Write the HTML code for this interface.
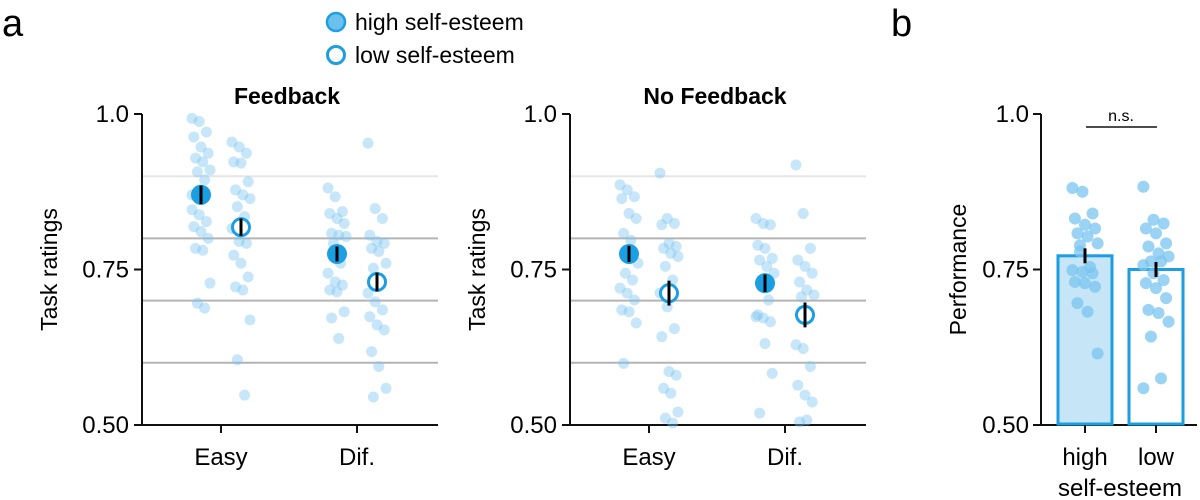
<!DOCTYPE html>
<html><head><meta charset="utf-8"><style>
html,body{margin:0;padding:0;background:#fff;}
svg{display:block;font-family:"Liberation Sans",sans-serif;}
</style></head><body>
<svg id="chart" width="1200" height="500" viewBox="0 0 1200 500"></svg>
<script>
// ---- data ----
const conditions = ["Feedback", "No Feedback"];
const taskCats = ["Easy", "Dif."];
const yTicks = [1.0, 0.75, 0.5];
const yTickLabels = ["1.0", "0.75", "0.50"];
const gridVals = [0.9, 0.8, 0.7, 0.6];
// means [condition][task] for high / low
const meanHigh = [[0.870, 0.775], [0.775, 0.728]];
const meanLow  = [[0.818, 0.730], [0.712, 0.677]];
const semHigh  = [[0.015, 0.012], [0.013, 0.014]];
const semLow   = [[0.014, 0.015], [0.020, 0.020]];
const fbEasyHigh = [0.993,0.988,0.971,0.963,0.947,0.937,0.929,0.923,0.910,0.907,0.894,0.846,0.838,0.827,0.819,0.811,0.800,0.784,0.781,0.728,0.696,0.688,0.870,0.878];
const fbEasyLow = [0.955,0.947,0.937,0.923,0.921,0.891,0.878,0.870,0.864,0.851,0.835,0.816,0.795,0.792,0.773,0.760,0.738,0.722,0.717,0.669,0.605,0.548];
const fbDifHigh = [0.881,0.867,0.843,0.840,0.832,0.824,0.808,0.805,0.803,0.792,0.760,0.744,0.730,0.725,0.717,0.714,0.682,0.672,0.639];
const fbDifLow = [0.953,0.848,0.832,0.805,0.795,0.792,0.784,0.779,0.760,0.752,0.730,0.712,0.698,0.685,0.674,0.661,0.653,0.618,0.594,0.559,0.545];
const nfEasyHigh = [0.886,0.878,0.867,0.864,0.840,0.832,0.808,0.797,0.760,0.744,0.733,0.720,0.712,0.701,0.685,0.682,0.664,0.599];
const nfEasyLow = [0.905,0.832,0.824,0.822,0.792,0.787,0.784,0.776,0.771,0.755,0.733,0.712,0.690,0.655,0.642,0.586,0.580,0.559,0.551,0.521,0.511,0.503];
const nfDifHigh = [0.832,0.824,0.822,0.789,0.784,0.768,0.765,0.755,0.744,0.730,0.701,0.674,0.672,0.666,0.677,0.631,0.583,0.519];
const nfDifLow = [0.918,0.840,0.784,0.765,0.755,0.744,0.730,0.717,0.709,0.706,0.672,0.629,0.623,0.594,0.564,0.548,0.537,0.505,0.508];
const perfCats = ["high", "low"];
const perfMeans = [0.772, 0.750];
const perfSem = [0.012, 0.012];
const perfHigh = [0.881,0.875,0.840,0.832,0.822,0.816,0.808,0.803,0.792,0.789,0.754,0.749,0.746,0.744,0.730,0.728,0.722,0.696,0.682,0.615,0.779];
const perfLow = [0.883,0.830,0.824,0.816,0.808,0.792,0.787,0.776,0.771,0.763,0.763,0.757,0.744,0.733,0.728,0.720,0.704,0.685,0.680,0.666,0.642,0.575,0.559];

const pts = [[[fbEasyHigh, fbEasyLow],[fbDifHigh, fbDifLow]],[[nfEasyHigh, nfEasyLow],[nfDifHigh, nfDifLow]]];

// ---- helpers ----
const svg = document.getElementById('chart');
const NS = 'http://www.w3.org/2000/svg';
function mk(tag, attrs, parent){const e=document.createElementNS(NS,tag);for(const k in attrs)e.setAttribute(k,attrs[k]);(parent||svg).appendChild(e);return e;}
function txt(s, attrs, parent){const e=mk('text',attrs,parent);e.textContent=s;return e;}
const Y0=114, Y1=425;
function y(v){return Y0 + (1-v)/(0.5)*(Y1-Y0);}
function jit(i){return ((i*37)%11-5)*1.8;}
const BLUE='#1b9ee2', DOT='rgba(122,196,240,0.42)';

let e;
e=txt('a',{x:2,y:36,'font-size':38});  
e=txt('b',{x:891,y:36,'font-size':38});  
const lg=mk('g',{});
 
mk('circle',{cx:336,cy:22,r:9,fill:'#6cc0ee',stroke:BLUE,'stroke-width':2.5},lg);
txt('high self-esteem',{x:355,y:30,'font-size':23},lg);
mk('circle',{cx:336,cy:55,r:8.5,fill:'#fff',stroke:BLUE,'stroke-width':3},lg);
txt('low self-esteem',{x:355,y:63,'font-size':23},lg);

const panelX=[142,570];
conditions.forEach((c,ci)=>{
  const g=mk('g',{});
  
  
  const x0=panelX[ci], x1=x0+296;
  const catX=[x0+79, x0+215];
  gridVals.forEach(v=>{
    const l=mk('line',{x1:x0,x2:x1,y1:y(v),y2:y(v),stroke:v===0.9?'#e6e6e6':'#b4b4b4','stroke-width':2},g);
     
  });
  const t=txt(c,{x:x0+145,y:104,'font-size':23,'font-weight':'bold','text-anchor':'middle'},g);
   
  mk('line',{x1:x0,x2:x0,y1:Y0,y2:Y1,stroke:'#111','stroke-width':2},g);
  mk('line',{x1:x0,x2:x1,y1:Y1,y2:Y1,stroke:'#111','stroke-width':2},g);
  yTicks.forEach((v,i)=>{
    mk('line',{x1:x0-8,x2:x0,y1:y(v),y2:y(v),stroke:'#111','stroke-width':2},g);
    const tl=txt(yTickLabels[i],{x:x0-13,y:y(v)+8,'font-size':24,'text-anchor':'end'},g);
     
  });
  const yl=txt('Task ratings',{x:0,y:0,'font-size':23,'text-anchor':'middle',transform:`translate(${x0-85},${y(0.75)}) rotate(-90)`},g);
   
  taskCats.forEach((tc,ti)=>{
    mk('line',{x1:catX[ti],x2:catX[ti],y1:Y1,y2:Y1+8,stroke:'#111','stroke-width':2},g);
    const xl=txt(tc,{x:catX[ti],y:465,'font-size':24,'text-anchor':'middle'},g);
     
    [0,1].forEach(si=>{
      const cx=catX[ti]+(si===0?-20:20);
      pts[ci][ti][si].forEach((v,i)=>{
        const d=mk('circle',{cx:cx+jit(i),cy:y(v),r:5.5,fill:DOT},g);
         
      });
    });
    [0,1].forEach(si=>{
      const cx=catX[ti]+(si===0?-20:20);
      const m=si===0?meanHigh[ci][ti]:meanLow[ci][ti];
      const s=si===0?semHigh[ci][ti]:semLow[ci][ti];
      const mc = si===0 ? mk('circle',{cx:cx,cy:y(m),r:10,fill:BLUE},g) : mk('circle',{cx:cx,cy:y(m),r:8.5,fill:'#fff',stroke:BLUE,'stroke-width':3},g);
       
      mk('line',{x1:cx,x2:cx,y1:y(m+s),y2:y(m-s),stroke:'#000','stroke-width':3},g);
    });
  });
});

// panel b
const gb=mk('g',{});
 
const bx0=1041;
mk('line',{x1:bx0,x2:bx0,y1:Y0,y2:Y1,stroke:'#111','stroke-width':2},gb);
mk('line',{x1:bx0,x2:1197,y1:Y1,y2:Y1,stroke:'#111','stroke-width':2},gb);
yTicks.forEach((v,i)=>{
  mk('line',{x1:bx0-8,x2:bx0,y1:y(v),y2:y(v),stroke:'#111','stroke-width':2},gb);
  const tl=txt(yTickLabels[i],{x:bx0-12,y:y(v)+8,'font-size':24,'text-anchor':'end'},gb);
   
});
e=txt('Performance',{x:0,y:0,'font-size':23,'text-anchor':'middle',transform:`translate(966,${y(0.75)}) rotate(-90)`},gb);
 
const barX=[1085,1156];
const perfPts=[perfHigh,perfLow];
perfCats.forEach((pc,i)=>{
  const b=mk('rect',{x:barX[i]-27,y:y(perfMeans[i]),width:54,height:Y1-y(perfMeans[i])-1,fill:i===0?'#c6e6f8':'#fff',stroke:BLUE,'stroke-width':3},gb);
   
  perfPts[i].forEach((v,j)=>{
    const d=mk('circle',{cx:barX[i]+jit(j)*1.4,cy:y(v),r:6,fill:'rgba(122,196,240,0.75)'},gb);
     
  });
  mk('line',{x1:barX[i],x2:barX[i],y1:y(perfMeans[i]+perfSem[i]),y2:y(perfMeans[i]-perfSem[i]),stroke:'#000','stroke-width':3},gb);
  mk('line',{x1:barX[i],x2:barX[i],y1:Y1,y2:Y1+8,stroke:'#111','stroke-width':2},gb);
  const xl=txt(pc,{x:barX[i],y:465,'font-size':24,'text-anchor':'middle'},gb);
   
});
e=txt('self-esteem',{x:1120,y:496,'font-size':24,'text-anchor':'middle'},gb);
 
mk('line',{x1:1086,x2:1157,y1:127,y2:127,stroke:'#111','stroke-width':1.5},gb);
e=txt('n.s.',{x:1121,y:121,'font-size':16,'text-anchor':'middle'},gb);
 
</script>
</body></html>
